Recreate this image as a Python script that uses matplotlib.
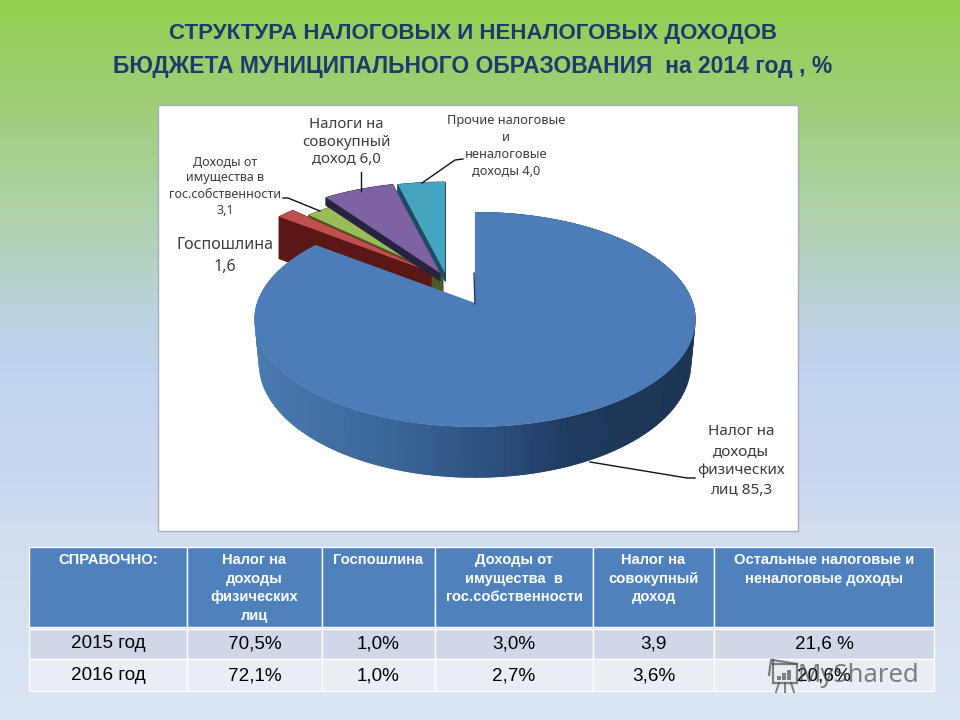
import numpy as np
import matplotlib
matplotlib.use("Agg")
import matplotlib.pyplot as plt
from matplotlib.patches import Rectangle

plt.rcParams['font.family'] = ['Liberation Sans', 'DejaVu Sans']

# pie data
values = [85.3, 1.6, 3.1, 6.0, 4.0]
pie_labels = ["Налог на\nдоходы\nфизических\nлиц 85,3",
              "Госпошлина\n1,6",
              "Доходы от\nимущества в\nгос.собственности\n3,1",
              "Налоги на\nсовокупный\nдоход 6,0",
              "Прочие налоговые\nи\nненалоговые\nдоходы 4,0"]

# table data
table_header = ["СПРАВОЧНО:", "Налог на\nдоходы\nфизических\nлиц", "Госпошлина",
                "Доходы от\nимущества  в\nгос.собственности", "Налог на\nсовокупный\nдоход",
                "Остальные налоговые и\nненалоговые доходы"]
row_2015 = ["2015 год", "70,5%", "1,0%", "3,0%", "3,9", "21,6 %"]
row_2016 = ["2016 год", "72,1%", "1,0%", "2,7%", "3,6%", "20,6%"]

title_lines = ["СТРУКТУРА НАЛОГОВЫХ И НЕНАЛОГОВЫХ ДОХОДОВ",
               "БЮДЖЕТА МУНИЦИПАЛЬНОГО ОБРАЗОВАНИЯ  на 2014 год , %"]

# pie look
CX, CY = 475, 303
A, B, K = 218, 105, 0.153
top_colors = ["#4c7db8", "#c0504d", "#9bbb59", "#7f62a1", "#45a5c0"]
side_colors = [None, "#5a1715", "#4c5a26", "#262440", "#1c4a60"]
offsets = [(0, 0), (-44, -31), (-32, -28), (-35, -30), (-30, -30)]
radii = [1.0, 0.95, 0.92, 1.0, 1.0]
depths = [43, 42, 42, 8, 8]

fig = plt.figure(figsize=(9.6, 7.2), dpi=100)
ax = fig.add_axes([0, 0, 1, 1])

# slide background
stops_y = [0, 103, 207, 310, 362, 482, 530, 720]
stops_rgb = np.array([[146, 208, 80], [160, 206, 120], [174, 210, 168], [188, 210, 220],
                      [192, 211, 238], [203, 217, 242], [210, 221, 238], [219, 229, 245]]) / 255
rows = np.arange(720)
grad = np.stack([np.interp(rows, stops_y, stops_rgb[:, i]) for i in range(3)], axis=1)
ax.imshow(grad[:, None, :], extent=(0, 960, 720, 0), aspect="auto", zorder=0)
ax.set_xlim(0, 960)
ax.set_ylim(720, 0)
ax.axis("off")

# white chart panel
ax.add_patch(Rectangle((158, 105), 640, 426, fc="white", ec="#a8acbc", lw=1, zorder=1))


def project(r, theta, off=(0, 0)):
    u = r * np.sin(theta)
    v = r * np.cos(theta)
    s = 1 / (1 + K * v)
    return CX + A * u * s + off[0], CY - B * v * s + off[1]


# angles run clockwise from 12 o'clock
edges = np.radians(np.concatenate([[0], np.cumsum(values)]) * 3.6)
arcs = [np.linspace(edges[i], edges[i + 1], max(4, int(values[i] * 4))) for i in range(len(values))]


def wedge(i):
    x, y = project(radii[i], arcs[i], offsets[i])
    return np.r_[CX + offsets[i][0], x], np.r_[CY + offsets[i][1], y]


def small_slice(i):
    x, y = wedge(i)
    # extruded side: the outline swept straight down
    for j in range(len(x)):
        k = (j + 1) % len(x)
        ax.fill([x[j], x[k], x[k], x[j]], [y[j], y[k], y[k] + depths[i], y[j] + depths[i]],
                color=side_colors[i], lw=0.5, zorder=2)
    ax.fill(x, y + depths[i], color=side_colors[i], lw=0, zorder=2)
    ax.fill(x, y, color=top_colors[i], lw=0, zorder=2)


for i in [2, 1, 3, 4]:
    small_slice(i)

# big slice side, shaded along x
fine = np.linspace(edges[0], edges[1], 260)
xs, ys = project(1.0, fine)
scale = 1 / (1 + K * np.cos(fine))
xb = CX + (xs - CX) * 0.98
yb = ys + depths[0] * scale
shade_x = [256, 400, 500, 570, 697]
shade_rgb = np.array([[74, 122, 176], [58, 100, 150], [43, 78, 123], [31, 58, 94], [29, 52, 84]]) / 255
# each piece reaches over the next one so no seams show
for j in range(len(fine) - 2):
    mid = (xs[j] + xs[j + 1]) / 2
    c = [np.interp(mid, shade_x, shade_rgb[:, n]) for n in range(3)]
    ax.fill([xs[j], xs[j + 2], xb[j + 2], xb[j]], [ys[j], ys[j + 2], yb[j + 2], yb[j]],
            color=c, lw=0, zorder=3)

x, y = wedge(0)
ax.fill(x, y, color=top_colors[0], lw=0, zorder=4)
ax.plot([CX - 1, CX], [CY - 30, CY + 1], color="#1f3a5f", lw=1, zorder=4)

# leader lines
leaders = [([590, 687, 695], [462, 478, 478]),
           ([283, 288, 320], [198, 198, 211]),
           ([361, 361], [172, 191]),
           ([422, 455, 463], [183, 160, 159])]
for lx, ly in leaders:
    ax.plot(lx, ly, color="#111111", lw=1, zorder=5)

# pie labels
label_font = ['Noto Sans', 'DejaVu Sans']
label_pos = [(741, 461, 11.0, 1.42), (225, 256, 11.5, 1.42), (225, 186, 9.0, 1.3),
             (346, 142, 10.8, 1.27), (506, 146, 9.2, 1.38)]
for text, (lx, ly, size, gap) in zip(pie_labels, label_pos):
    ax.text(lx, ly, text, ha="center", va="center", fontsize=size, color="#3c3c3c",
            family=label_font, linespacing=gap, zorder=6)

# title
for line, ty, size in zip(title_lines, [34, 66], [16.05, 16.5]):
    ax.text(473, ty, line, ha="center", va="center", fontsize=size, fontweight="bold",
            color="#1f3a6e", zorder=6)

# table
col_edges = [29, 187, 322, 435, 593, 714, 934]
for c in range(len(table_header)):
    left, width = col_edges[c], col_edges[c + 1] - col_edges[c]
    ax.add_patch(Rectangle((left, 547), width, 80, fc="#4f81bd", ec="white", lw=1, zorder=2))
    ax.add_patch(Rectangle((left, 629), width, 30, fc="#d0d8e8", ec="white", lw=1, zorder=2))
    ax.add_patch(Rectangle((left, 659), width, 32, fc="#e9edf4", ec="white", lw=1, zorder=2))
    mid = left + width / 2
    ax.text(mid, 553, table_header[c], ha="center", va="top", fontsize=10.6, fontweight="bold",
            color="white", linespacing=1.42, zorder=3)
    ax.text(mid, 644, row_2015[c], ha="center", va="center", fontsize=13.6, color="black", zorder=3)
    ax.text(mid, 676, row_2016[c], ha="center", va="center", fontsize=13.6, color="black", zorder=3)

# watermark
mark = "#505050"
ax.text(797, 676, "MyShared", ha="left", va="center", fontsize=18.5, color=mark, alpha=0.7,
        family=['Noto Sans', 'DejaVu Sans'], zorder=7)
ax.add_patch(Rectangle((773, 664), 24, 19, fc="none", ec=mark, lw=1.6, alpha=0.7, zorder=7))
ax.plot([769, 771, 773, 773], [675, 660, 660, 664], color=mark, lw=1.6, alpha=0.7, zorder=7)
ax.plot([773, 797], [660, 664], color=mark, lw=1.6, alpha=0.7, zorder=7)
ax.bar([779, 784, 789], [-4, -7, -10], width=3.2, bottom=[680, 680, 680], color=mark, alpha=0.7, zorder=7)
ax.set_ylim(720, 0)
ax.plot([779, 776], [683, 692], color=mark, lw=1.4, alpha=0.7, zorder=7)
ax.plot([785, 785], [683, 692], color=mark, lw=1.4, alpha=0.7, zorder=7)
ax.plot([791, 794], [683, 692], color=mark, lw=1.4, alpha=0.7, zorder=7)

fig.savefig("out.png", dpi=100)
